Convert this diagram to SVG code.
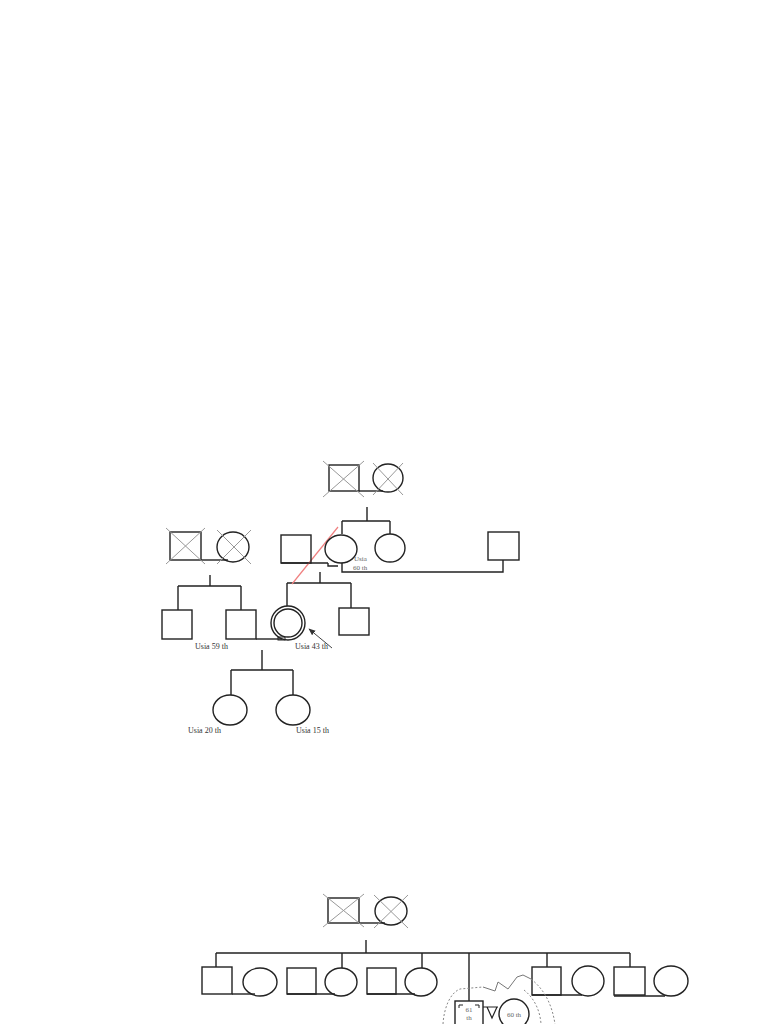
<svg xmlns="http://www.w3.org/2000/svg" width="768" height="1024" viewBox="0 0 768 1024">
<style>
.n{fill:none;stroke:#222;stroke-width:1.4}
.x{stroke:#999;stroke-width:1}
.c{fill:none;stroke:#222;stroke-width:1.4}
.t{font-family:"Liberation Serif",serif;font-size:8px;fill:#333}
.ts{font-family:"Liberation Serif",serif;font-size:7px;fill:#666}
.d{fill:none;stroke:#888;stroke-width:1;stroke-dasharray:2,2}
</style>
<defs>
<marker id="ah" viewBox="0 0 10 10" refX="9" refY="5" markerWidth="7" markerHeight="7" orient="auto"><path d="M0,1 L10,5 L0,9 z" fill="#333"/></marker>
</defs>
<rect width="768" height="1024" fill="#fff"/>
<g id="connectors">
<path class="c" d="M359,491 H383"/>
<path class="c" d="M367,507 V521 M342,521 H390 M342,521 V534 M390,521 V534"/>
<path class="c" d="M201,560 H228"/>
<path class="c" d="M210,575 V586 M178,586 H241 M178,586 V610 M241,586 V610"/>
<path class="c" d="M281,563 H328 M328,563 V566 H338"/>
<path class="c" d="M342,563 V572 H503 V560"/>
<path class="c" d="M320,572 V583 M287,583 H351 M287,583 V606 M351,583 V608"/>
<path class="c" d="M256,639 H282"/>
<rect x="278" y="637" width="7" height="3" fill="none" stroke="#222" stroke-width="1"/>
<path class="c" d="M262,650 V670 M231,670 H293 M231,670 V695 M293,670 V695"/>
<line x1="338" y1="527" x2="292" y2="584" stroke="#f08080" stroke-width="1.2"/>
<line x1="332" y1="648" x2="309" y2="629" stroke="#444" stroke-width="1" marker-end="url(#ah)"/>
<path class="c" d="M359,923 H385"/>
<path class="c" d="M366,940 V953 M216,953 H630"/>
<path class="c" d="M216,953 V967 M342,953 V968 M422,953 V968 M469,953 V1001 M547,953 V967 M630,953 V967"/>
<path class="c" d="M232,994 H255"/>
<path class="c" d="M287,994 H335"/>
<path class="c" d="M367,994 H415"/>
<path class="c" d="M532,995 H582"/>
<path class="c" d="M614,996 H665"/>
<path fill="none" stroke="#222" stroke-width="1.2" d="M483,1007 H498 M487,1007 L492,1018 L497,1007"/>
</g>
<g id="d1-gp1-m">
<rect class="n" x="329" y="465" width="30" height="26"/>
<line class="x" x1="323" y1="461" x2="364" y2="497"/><line class="x" x1="364" y1="461" x2="323" y2="497"/>
</g>
<g id="d1-gp1-f">
<ellipse class="n" cx="388" cy="478" rx="15" ry="14"/>
<line class="x" x1="373" y1="463" x2="403" y2="495"/><line class="x" x1="403" y1="463" x2="373" y2="495"/>
</g>
<g id="d1-gp2-m">
<rect class="n" x="170" y="532" width="31" height="28"/>
<line class="x" x1="166" y1="528" x2="205" y2="564"/><line class="x" x1="205" y1="528" x2="166" y2="564"/>
</g>
<g id="d1-gp2-f">
<ellipse class="n" cx="233" cy="547" rx="16" ry="15"/>
<line class="x" x1="217" y1="530" x2="251" y2="564"/><line class="x" x1="251" y1="530" x2="217" y2="564"/>
</g>
<g id="d1-father"><rect class="n" x="281" y="535" width="30" height="28"/></g>
<g id="d1-mother">
<ellipse class="n" cx="341" cy="549" rx="16" ry="14"/>
<text class="ts" x="354" y="561">Usia</text><text class="ts" x="353" y="570">60 th</text>
</g>
<g id="d1-aunt"><ellipse class="n" cx="390" cy="548" rx="15" ry="14"/></g>
<g id="d1-uncle"><rect class="n" x="488" y="532" width="31" height="28"/></g>
<g id="d1-s1"><rect class="n" x="162" y="610" width="30" height="29"/></g>
<g id="d1-husband"><rect class="n" x="226" y="610" width="30" height="29"/><text class="t" x="195" y="649">Usia 59 th</text></g>
<g id="d1-proband">
<circle class="n" cx="288" cy="623" r="17"/><circle class="n" cx="288" cy="623" r="14"/>
<text class="t" x="295" y="649">Usia 43 th</text>
</g>
<g id="d1-brother"><rect class="n" x="339" y="608" width="30" height="27"/></g>
<g id="d1-c1"><ellipse class="n" cx="230" cy="710" rx="17" ry="15"/><text class="t" x="188" y="733">Usia 20 th</text></g>
<g id="d1-c2"><ellipse class="n" cx="293" cy="710" rx="17" ry="15"/><text class="t" x="296" y="733">Usia 15 th</text></g>
<g id="d2-gp-m">
<rect class="n" x="328" y="898" width="31" height="25"/>
<line class="x" x1="323" y1="894" x2="364" y2="927"/><line class="x" x1="364" y1="894" x2="323" y2="927"/>
</g>
<g id="d2-gp-f">
<ellipse class="n" cx="391" cy="911" rx="16" ry="14"/>
<line class="x" x1="374" y1="895" x2="408" y2="928"/><line class="x" x1="408" y1="895" x2="374" y2="928"/>
</g>
<g id="d2-m1"><rect class="n" x="202" y="967" width="30" height="27"/></g>
<g id="d2-f1"><ellipse class="n" cx="260" cy="982" rx="17" ry="14"/></g>
<g id="d2-m2"><rect class="n" x="287" y="968" width="29" height="26"/></g>
<g id="d2-f2"><ellipse class="n" cx="341" cy="982" rx="16" ry="14"/></g>
<g id="d2-m3"><rect class="n" x="367" y="968" width="29" height="26"/></g>
<g id="d2-f3"><ellipse class="n" cx="421" cy="982" rx="16" ry="14"/></g>
<g id="d2-m61">
<rect class="n" x="455" y="1001" width="28" height="30"/>
<path fill="none" stroke="#222" stroke-width="1" d="M459,1008 V1005 H463 M479,1005 H475 M479,1005 V1008"/>
<text class="ts" x="469" y="1012" text-anchor="middle">61</text><text class="ts" x="469" y="1020" text-anchor="middle">th</text>
</g>
<g id="d2-f60">
<circle class="n" cx="514" cy="1014" r="15"/>
<text class="ts" x="514" y="1017" text-anchor="middle">60 th</text>
</g>
<g id="d2-m4"><rect class="n" x="532" y="967" width="29" height="28"/></g>
<g id="d2-f4"><ellipse class="n" cx="588" cy="981" rx="16" ry="15"/></g>
<g id="d2-m5"><rect class="n" x="614" y="967" width="31" height="28"/></g>
<g id="d2-f5"><ellipse class="n" cx="671" cy="981" rx="17" ry="15"/></g>
<g id="d2-household">
<path class="d" d="M443,1024 C444,1008 450,993 460,989 L483,987"/>
<path fill="none" stroke="#777" stroke-width="1" d="M483,987 L495,991 L498,982 L508,989 L517,977 L523,975 L531,979"/>
<path class="d" d="M531,979 C545,990 552,1005 555,1024"/>
<path class="d" d="M524,990 C534,998 540,1010 541,1024"/>
</g>
</svg>
